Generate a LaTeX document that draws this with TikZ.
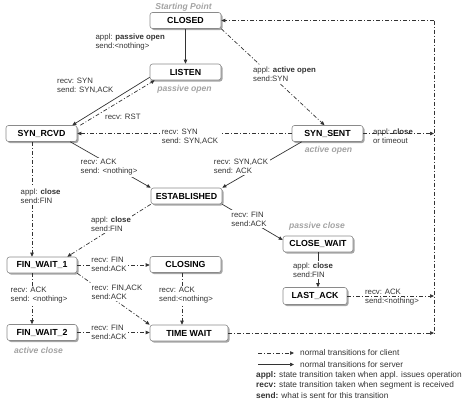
\documentclass[tikz,border=0pt]{standalone}
\usepackage{fontspec}
\setmainfont{Liberation Sans}
\usetikzlibrary{arrows.meta,shadows,calc}
\definecolor{edgec}{HTML}{333333}
\definecolor{boxc}{HTML}{8A8A8A}
\definecolor{annot}{HTML}{A3A3A3}
\definecolor{txt}{HTML}{333333}
\begin{document}
\begin{tikzpicture}[x=1pt,y=-1pt,
  state/.style={draw=boxc, line width=0.6pt, fill=white, rounded corners=2.5pt,
    minimum height=16pt, minimum width=71pt, inner sep=0pt,
    font=\fontsize{8.8}{10}\selectfont\bfseries, text=black,
    drop shadow={shadow xshift=1.5pt, shadow yshift=-1.5pt, fill=black!35, opacity=1}},
  lbl/.style={font=\fontsize{7.8}{9}\selectfont, text=txt, align=left, inner sep=1pt},
  lblw/.style={lbl, fill=white, inner sep=1.5pt},
  legendtxt/.style={font=\fontsize{8.3}{10}\selectfont, text=txt, inner sep=0pt},
  annotation/.style={font=\fontsize{8.6}{10}\selectfont\bfseries\itshape, text=annot, inner sep=0pt},
  server/.style={draw=edgec, line width=0.7pt, -{Triangle[length=4pt,width=3.5pt]}},
  client/.style={draw=edgec, line width=0.7pt, dash pattern=on 4pt off 2pt on 1pt off 2pt, -{Triangle[length=4pt,width=3.5pt]}},
  clientline/.style={draw=edgec, line width=0.7pt, dash pattern=on 4pt off 2pt on 1pt off 2pt},
]
\useasboundingbox (0,0) rectangle (474,410);

% states
\node[state] (closed) at (185.5,20.5) {CLOSED};
\node[state] (listen) at (185.5,72) {LISTEN};
\node[state] (synrcvd) at (41.5,133.5) {SYN\_RCVD};
\node[state] (synsent) at (327.5,133.5) {SYN\_SENT};
\node[state] (estab) at (186.5,196) {ESTABLISHED};
\node[state, minimum width=70pt] (closewait) at (318,244) {CLOSE\_WAIT};
\node[state, minimum width=64pt, minimum height=17pt] (lastack) at (315,296) {LAST\_ACK};
\node[state, minimum width=70pt] (fw1) at (42,265) {FIN\_WAIT\_1};
\node[state] (closing) at (185.5,264.5) {CLOSING};
\node[state, minimum width=70pt] (fw2) at (42,332.5) {FIN\_WAIT\_2};
\node[state, minimum width=78pt] (timewait) at (189,333) {TIME WAIT};

% annotations
\node[annotation] (sp) at (183.5,7) {Starting Point};
\node[annotation] (po) at (184.5,89) {passive open};
\node[annotation] (ao) at (328.5,150) {active open};
\node[annotation] (pc) at (317,226) {passive close};
\node[annotation] (ac) at (38.5,350) {active close};

% right return line
\coordinate (rt) at (434,20.5);
\coordinate (rb) at (434,333);
\draw[clientline] (rt) -- (rb);
\draw[client] (rt) -- (closed.east);

% transitions
\draw[server] (closed) -- (listen);
\node[lbl, anchor=east] (l1) at (166,42) {appl: \textbf{passive open}\\send:<nothing>};

\draw[client] (closed.south east) -- ([xshift=-3pt]synsent.north);
\node[lblw] (l2) at (284.5,74) {appl: \textbf{active open}\\send:SYN};

\draw[server] ([yshift=3pt]listen.south west) -- ([xshift=-5pt]synrcvd.north east);
\node[lbl, anchor=west] (l3) at (56,86) {recv: SYN\\send: SYN,ACK};

\draw[client] ([xshift=3pt]synrcvd.north east) -- ([xshift=5pt]listen.south west);
\node[lbl, anchor=west] (l4) at (104,116.5) {recv: RST};

\draw[client] (synsent) -- (synrcvd);
\node[lblw] (l5) at (190,136.5) {recv: SYN\\send: SYN,ACK};

\draw[client] (synsent.east) -- (synsent.east -| rt);
\node[lbl] (l6) at (393,136) {appl: \textbf{close}\\or timeout};

\draw[server] ([xshift=10pt]synsent.south west) -- (estab.north east);
\node[lblw] (l7) at (241,166) {recv: SYN,ACK\\send: ACK};

\draw[server] ([xshift=-7pt]synrcvd.south east) -- (estab.north west);
\node[lblw] (l8) at (109,167.5) {recv: ACK\\send: <nothing>};

\draw[client] ([xshift=-9.5pt]synrcvd.south) -- ([xshift=-10pt]fw1.north);
\node[lblw, anchor=west] (l9) at (19,196) {appl: \textbf{close}\\send:FIN};

\draw[client] (estab.south west) -- ([xshift=-10pt]fw1.north east);
\node[lblw] (l10) at (111,224) {appl: \textbf{close}\\send:FIN};

\draw[server] (estab.south east) -- ([yshift=4pt]closewait.west);
\node[lblw] (l11) at (249,219) {recv: FIN\\send:ACK};

\draw[server] (closewait.south) -- (closewait.south |- lastack.north);
\node[lblw] (l12) at (313,270) {appl: \textbf{close}\\send:FIN};

\draw[client] (lastack.east) -- (lastack.east -| rt);
\node[lbl] (l13) at (392,297.5) {recv: ACK\\send:<nothing>};

\draw[client] (fw1.east) -- (fw1.east -| closing.west);
\node[lblw] (l14) at (109,264) {recv: FIN\\send:ACK};

\draw[client] (fw1.south east) -- (timewait.north west);
\node[lblw] (l15) at (117,292) {recv: FIN,ACK\\send:ACK};

\draw[client] ([xshift=-10pt]fw1.south) -- ([xshift=-10pt]fw2.north);
\node[lblw] (l16) at (39,295.5) {recv: ACK\\send: <nothing>};

\draw[client] ([xshift=-3.5pt]closing.south) -- ([xshift=-3.5pt]closing.south |- timewait.north);
\node[lblw] (l17) at (186,295.5) {recv: ACK\\send:<nothing>};

\draw[client] (fw2.east) -- (fw2.east -| timewait.west);
\node[lblw] (l18) at (109,332) {recv: FIN\\send:ACK};

\draw[client] (timewait.east) -- (rb);

% legend
\coordinate (lga) at (258,353);
\coordinate (lgb) at (294,353);
\coordinate (lgc) at (258,364.5);
\coordinate (lgd) at (294,364.5);
\draw[client] (lga) -- (lgb);
\draw[server] (lgc) -- (lgd);
\node[legendtxt, anchor=west] (lt1) at (300,353) {normal transitions for client};
\node[legendtxt, anchor=west] (lt2) at (300,364.5) {normal transitions for server};
\node[legendtxt, anchor=west] (lt3) at (256,375.5) {\textbf{appl:} state transition taken when appl. issues operation};
\node[legendtxt, anchor=west] (lt4) at (256,385.5) {\textbf{recv:} state transition taken when segment is received};
\node[legendtxt, anchor=west] (lt5) at (256,395.5) {\textbf{send:} what is sent for this transition};
\end{tikzpicture}
\end{document}
